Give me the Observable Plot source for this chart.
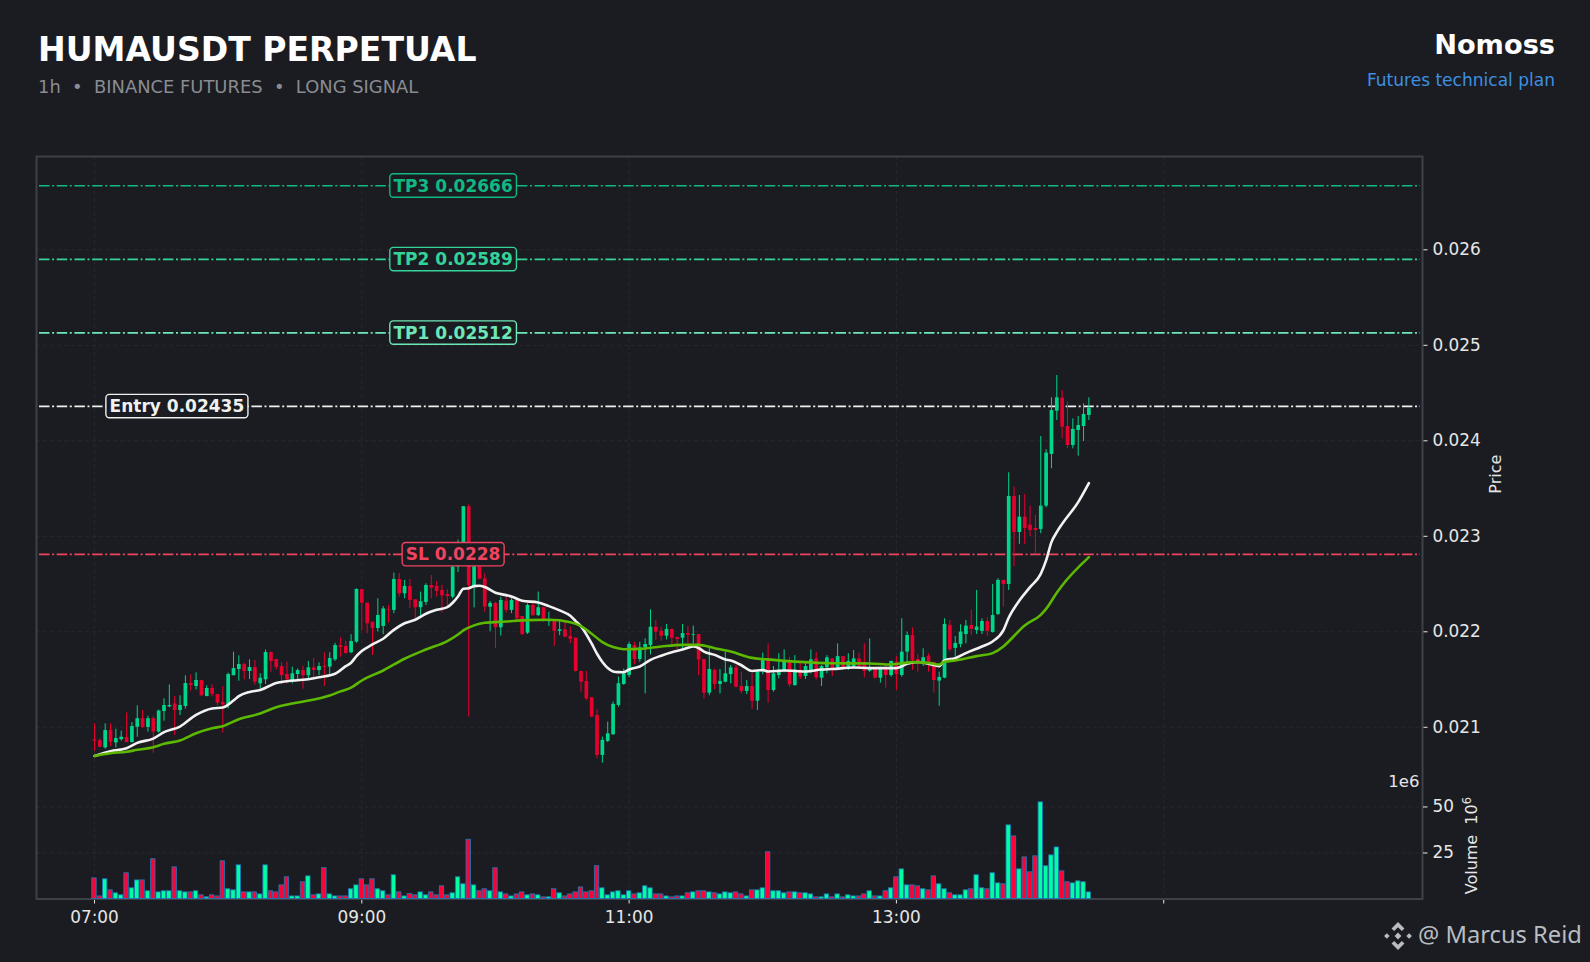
<!DOCTYPE html>
<html>
<head>
<meta charset="utf-8">
<script src="https://cdn.jsdelivr.net/npm/d3@7"></script>
<script src="https://cdn.jsdelivr.net/npm/@observablehq/plot@0.6"></script>
<style>
html,body{margin:0;padding:0;background:#1a1c21;width:1590px;height:962px;overflow:hidden;font-family:"DejaVu Sans",sans-serif}
#stage{position:relative;width:1590px;height:962px}
#stage svg.plot{position:absolute;left:0;top:0;background:transparent}
.t{position:absolute;white-space:pre;line-height:1}
#title{left:38px;top:33px;font-size:33.1px;font-weight:700;color:#fff}
#sub{left:38px;top:78px;font-size:17.9px;color:#8a8c92}
#brand{right:35px;top:31px;font-size:27.2px;font-weight:700;color:#fff}
#tag{right:35px;top:72px;font-size:17.05px;color:#3f8fe0}
#mark{left:1418px;top:923px;font-family:"Noto Sans",sans-serif;font-size:23.7px;color:#b9bcc0}
#logo{position:absolute;left:1383px;top:921px}
</style>
</head>
<body>
<div id="stage">
<div class="t" id="title">HUMAUSDT PERPETUAL</div>
<div class="t" id="sub">1h  •  BINANCE FUTURES  •  LONG SIGNAL</div>
<div class="t" id="brand">Nomoss</div>
<div class="t" id="tag">Futures technical plan</div>
<svg id="logo" width="30" height="30" viewBox="0 0 28 28" fill="#b9bcc0">
<path d="M14 1l6 6-2.4 2.4L14 5.8l-3.6 3.6L8 7zM14 27l-6-6 2.4-2.4 3.6 3.6 3.6-3.6L20 21zM1 14l2.6-2.6L6.2 14l-2.6 2.6zM27 14l-2.6-2.6L21.8 14l2.6 2.6zM14 10.8l3.2 3.2-3.2 3.2-3.2-3.2z"/>
</svg>
<div class="t" id="mark">@ Marcus Reid</div>
</div>
<script>
const opens=[.02087,.02086,.020785,.020966,.020837,.02087,.020893,.02084,.021,.02109,.020998,.02109,.02095,.021165,.021214,.021245,.021176,.021218,.021458,.021427,.02149,.021322,.021406,.021343,.02126,.021232,.02154,.021605,.021657,.021584,.021626,.021455,.021497,.021783,.02171,.021636,.021553,.02149,.021553,.021595,.02154,.021622,.021595,.021636,.02163,.021706,.021856,.021846,.02178,.021892,.022443,.0223,.0221,.022035,.022056,.022234,.022224,.022548,.022398,.022475,.022335,.022252,.022307,.022485,.022475,.022433,.022391,.022363,.02268,.0229,.02331,.022475,.02268,.022555,.022258,.022297,.022042,.02232,.022224,.022328,.02216,.021986,.022276,.02217,.022252,.022105,.022112,.022004,.02202,.02195,.021934,.021585,.02148,.02131,.021124,.020705,.020852,.020922,.021229,.021448,.021542,.021856,.02171,.021832,.021856,.022048,.022006,.021954,.022024,.02194,.021933,.021982,.021964,.02197,.02171,.021357,.021594,.021448,.021472,.021552,.021622,.021427,.021375,.021427,.021273,.021577,.021716,.021385,.021542,.021594,.021682,.021437,.0216,.021532,.021594,.021716,.021514,.021622,.021716,.021622,.02174,.02163,.021636,.021716,.021682,.021587,.021622,.021514,.021622,.021542,.021682,.021543,.021787,.02196,.02171,.021675,.021742,.02168,.021484,.021515,.022067,.021826,.021868,.021972,.022066,.022014,.022004,.022108,.021993,.022182,.022538,.022496,.023417,.02304,.0232,.023117,.023082,.023072,.023316,.023857,.02431,.024447,.02415,.023951,.024108,.02415,.024265];
const highs=[.021036,.02088,.021036,.021036,.02098,.02096,.02115,.02105,.021225,.021176,.021116,.021116,.02118,.021298,.021444,.021322,.02133,.021539,.02155,.02157,.02149,.021434,.021444,.021343,.021427,.021567,.021786,.021748,.02167,.021706,.0217,.02156,.02181,.02179,.02171,.02168,.021685,.02163,.02161,.02164,.02169,.02172,.021675,.02178,.02178,.02188,.021937,.0219,.02197,.02245,.022443,.0223,.0221,.022346,.022265,.022276,.022614,.022608,.022538,.022548,.022335,.022416,.022503,.02259,.022527,.022485,.02244,.022695,.02296,.02331,.02333,.02285,.02275,.022608,.022318,.02231,.022363,.022363,.022356,.022335,.02216,.022293,.022293,.022416,.022252,.022206,.022112,.02211,.0221,.02205,.021934,.021585,.021585,.02131,.021184,.020897,.021054,.021264,.021526,.02161,.02189,.02189,.02189,.021926,.02223,.022118,.022048,.022076,.02203,.021943,.022076,.022055,.02206,.02197,.02171,.02184,.02161,.021605,.021786,.021647,.021647,.021577,.02149,.02156,.021594,.021776,.021874,.021636,.02177,.02181,.021734,.02175,.02168,.02168,.02181,.021786,.021647,.02175,.021716,.021874,.02174,.02177,.021804,.021776,.021874,.021926,.021622,.02163,.021647,.021692,.02174,.022136,.021996,.02204,.021763,.021822,.02177,.02168,.021578,.022136,.022119,.02195,.022073,.022119,.022223,.022433,.022136,.022147,.022496,.022555,.022538,.023665,.023515,.023427,.023438,.023316,.023218,.024045,.023906,.02445,.024684,.024527,.024405,.02423,.024255,.024387,.02445];
const lows=[.02075,.020785,.02077,.0208,.020785,.020855,.02084,.020837,.020896,.02099,.02095,.020729,.02094,.021064,.021204,.020914,.021123,.02119,.021378,.02139,.02132,.02132,.02132,.021228,.020938,.021193,.02154,.021483,.021497,.0215,.021444,.0214,.021448,.021577,.0216,.021444,.021455,.021455,.0215,.0214,.021507,.021507,.02154,.021427,.02154,.02169,.021734,.02177,.02177,.02188,.022007,.02198,.021752,.021997,.02197,.02209,.022189,.022363,.022346,.02224,.022136,.02217,.022276,.022346,.022363,.022196,.02224,.022346,.02262,.02285,.021107,.02225,.02255,.022206,.022,.021822,.021955,.022196,.02219,.0221,.02196,.021972,.02216,.02216,.0221,.022056,.021847,.02196,.021937,.021875,.021578,.021369,.02128,.0211,.02067,.020625,.02084,.020915,.02121,.02144,.02152,.021657,.02168,.02135,.021758,.02191,.0219,.021915,.02185,.02181,.02182,.021874,.02187,.02154,.021298,.02133,.021395,.02135,.021465,.021455,.021413,.02135,.021343,.021186,.021176,.02155,.021252,.021368,.021507,.02157,.02142,.02143,.0215,.0215,.02156,.021497,.021427,.02156,.02153,.021594,.021594,.021594,.021612,.021612,.021518,.021577,.021507,.021462,.02141,.021525,.021385,.021525,.02165,.021595,.021578,.021637,.021578,.021358,.02122,.021508,.021787,.021735,.021833,.021874,.021962,.021972,.021972,.02195,.021986,.02217,.022258,.022433,.022684,.022915,.022915,.022998,.022817,.023026,.023298,.023707,.024213,.024021,.023916,.023916,.02384,.023993,.024213];
const closes=[.020855,.02079,.020966,.020844,.020882,.020896,.02084,.021008,.02109,.020998,.02109,.02095,.02117,.021228,.021228,.021176,.021228,.021458,.021437,.02149,.02133,.021406,.021347,.021252,.021235,.021553,.021615,.021657,.021584,.021626,.021472,.021514,.021783,.021689,.021626,.02154,.021497,.02156,.021595,.02154,.021622,.021595,.021636,.021626,.02172,.021856,.021835,.021772,.021898,.022443,.0223,.022084,.022035,.022171,.02224,.022227,.022548,.022398,.022475,.022328,.022252,.022314,.022485,.022457,.022423,.022377,.02237,.022677,.0229,.02331,.022485,.02268,.02255,.022258,.022297,.022042,.022328,.022224,.022328,.022136,.021972,.022276,.02217,.022252,.022108,.022112,.022004,.02202,.021944,.02192,.021585,.021473,.021299,.021107,.020705,.020863,.020932,.02124,.021456,.02156,.021867,.02171,.021832,.021867,.022048,.021996,.021954,.022024,.021933,.021919,.021982,.021964,.021971,.021706,.021357,.021605,.021448,.02148,.02156,.021622,.02142,.021375,.021427,.021273,.021577,.021716,.021385,.02156,.0216,.021692,.021444,.0216,.021525,.021636,.021706,.021518,.021636,.021727,.021612,.02174,.021622,.02169,.021716,.021636,.021584,.021612,.021514,.021612,.021542,.02169,.021553,.021787,.021961,.0217,.021683,.021728,.021683,.02149,.021522,.022077,.021811,.021878,.021997,.022059,.022025,.022049,.022108,.022004,.022171,.022538,.022496,.023417,.02304,.0232,.023082,.023061,.023061,.023316,.023871,.024317,.02445,.024143,.023951,.024119,.02416,.024276,.024342];
const volumes=[11.2,1.4,10.7,4.7,3.1,2,14,5.8,10.1,10.1,4.2,21.6,3.6,4.2,4.2,17.2,4.2,3.6,3.6,4.2,2,.9,2,1.4,20.5,5.3,4.7,18.3,3.6,3.6,3.6,2.5,18.3,4.2,3.6,7.4,11.8,1.4,1.4,9.1,12.3,2,2.5,16.8,2.5,1.4,1.4,1.4,5.3,7.4,10.7,7.4,10.7,5.3,4.2,2,12.9,3.6,1.4,2.7,2,3.6,2,3.6,2,6.9,2,3.1,11.8,8,32.2,7.4,4.2,5.3,4.2,16.7,3.6,2.5,1.4,2.5,3.6,2,2.5,2,.9,.9,5.3,3.1,1.4,2.5,3.6,6.3,3.6,4.2,17.8,5.8,2,3.6,4.2,2,4.2,2.5,3.1,6.9,5.8,2.5,2.5,1.4,.9,1.4,1.4,3.1,3.6,4.2,4.2,3.6,3.1,2.5,3.6,3.1,3.6,2.5,1.4,4.7,4.7,5.8,25.4,4.2,4.2,3.1,3.6,3.6,3.1,3.1,2.5,.9,.9,2.5,.9,2.5,.9,2,1.4,1.4,2.5,4.2,1.4,1.4,4.2,5.8,11.8,16.1,7.4,7.4,6.9,5.3,4.7,12.3,8,5.3,3.1,2,2,4.7,5.3,12.9,5.8,5.3,14,8.5,8,40,34,16.1,22.6,14.5,23.2,52.5,17.8,23.7,28,15,9.1,8.5,9.6,9.1,3.6];
const whiteBars=[0,3,6,8,11,13,16,19,22,24,26,27,29,31,34,36,39,42,45,47,48,49,50,52,54,56,58,60,62,64,66,67,68,69,70,71,72,73,75,77,78,80,83,85,87,89,90,91,93,94,95,96,97,98,99,100,102,104,106,108,110,112,113,114,116,118,119,121,123,125,126,129,133,136,138,142,145,150,152,154,156,158,159,161,163,166,168,170,171,173,175,177,178,179,180,181,184,186];
const whiteValues=[.0207,.02075,.02078,.020837,.020882,.020949,.021008,.02113,.021197,.021207,.02128,.021326,.02137,.02139,.021465,.021483,.021497,.021525,.02156,.02164,.021676,.021745,.021798,.021868,.021927,.02202,.02209,.022126,.022189,.02223,.022258,.022304,.02237,.02245,.022457,.022478,.022482,.022468,.022409,.022384,.02237,.022325,.022307,.022269,.022224,.022168,.022112,.022056,.021875,.02177,.021683,.02162,.021585,.021578,.021577,.021605,.021636,.021706,.02175,.021786,.021814,.021846,.02183,.021793,.021758,.02171,.021699,.02165,.02159,.0216,.021584,.021594,.021584,.021605,.02161,.021626,.02162,.02162,.021665,.021683,.021665,.02164,.0217,.021724,.021777,.021846,.021899,.022014,.022147,.022328,.022468,.022607,.022747,.022939,.023044,.02313,.023358,.023557];
const greenBars=[0,3,6,8,11,13,16,19,22,24,27,31,34,37,41,44,46,48,50,54,58,62,66,68,69,71,73,77,81,85,89,91,93,95,97,99,102,106,110,113,116,119,123,127,132,138,145,149,151,153,156,158,159,161,165,168,170,171,174,177,178,180,181,186];
const greenValues=[.0207,.020729,.020743,.020764,.020792,.020827,.020862,.020938,.02099,.021012,.021085,.021144,.02121,.021249,.02129,.021333,.021376,.021415,.02149,.021595,.021718,.021815,.021903,.021972,.022014,.022067,.022094,.022108,.022122,.022126,.022101,.02206,.02198,.021892,.02184,.021818,.021821,.021846,.021863,.021863,.021828,.021793,.021727,.021706,.021685,.021671,.021668,.021657,.021671,.021682,.021675,.021657,.021686,.0217,.021745,.021777,.021846,.021899,.022066,.022178,.02224,.022409,.022485,.022782];
const levelNames=["TP3 0.02666","TP2 0.02589","TP1 0.02512","Entry 0.02435","SL 0.0228"];
const levelPrices=[.02666,.02589,.02512,.02435,.0228];
const levelColors=["#10b981","#34d399","#6ee7b7","#f0f0f0","#f0435f"];
const levelLabelTimes=["09:41","09:41","09:41","07:37","09:41"];
const priceTicks=[.021,.022,.023,.024,.025,.026];
const volumeTicks=[25,50];
const timeTickHours=[7,9,11,13,15];

const bg="#1a1c21", frameColor="#3c4048", axisColor="#e6e6e6", gridColor="rgba(255,255,255,0.055)";
const up="#00d68a", down="#e6002d", volUp="#00ffa3", volDown="#ff0037", volEdge="#1f77b4";
const utc=(h,m=0,s=0)=>new Date(Date.UTC(2025,0,1,h,m,s));
const barSeconds=144;
const barTime=i=>new Date(+utc(7)+i*barSeconds*1000);
const bars=opens.map((o,i)=>({t:barTime(i),o,h:highs[i],l:lows[i],c:closes[i],v:volumes[i],up:closes[i]>=o,
  t1:new Date(+barTime(i)-59000),t2:new Date(+barTime(i)+59000)}));
const whiteLine=whiteBars.map((b,i)=>({t:barTime(b),y:whiteValues[i]}));
const greenLine=greenBars.map((b,i)=>({t:barTime(b),y:greenValues[i]}));
const levels=levelNames.map((n,i)=>{const [h,m]=levelLabelTimes[i].split(":").map(Number);return {name:n,y:levelPrices[i],color:levelColors[i],t:utc(h,m)}});
const timeTicks=timeTickHours.map(h=>utc(h));
const xScale={type:"utc",domain:[utc(6,33,58),utc(16,56,10)]};
const box={width:1590,height:962,marginLeft:36,marginRight:168,marginTop:156,marginBottom:63.5,
  style:{background:"transparent",fontFamily:"'DejaVu Sans',sans-serif"}};

const pricePlot=Plot.plot({...box,x:xScale,y:{domain:[.019202,.026977]},
  marks:[
    Plot.gridX(timeTicks,{stroke:gridColor,strokeOpacity:1,strokeDasharray:"4 3"}),
    Plot.gridY(priceTicks,{stroke:gridColor,strokeOpacity:1,strokeDasharray:"4 3"}),
    Plot.ruleY(levels,{y:"y",stroke:"color",strokeWidth:1.7,strokeDasharray:"10.5 2.6 2 2.6",insetLeft:3,insetRight:2,dy:-1}),
    Plot.ruleX(bars,{x:"t",y1:"l",y2:"h",stroke:d=>d.up?up:down,strokeWidth:1}),
    Plot.ruleX(bars,{x:"t",y1:"o",y2:"c",stroke:d=>d.up?up:down,strokeWidth:3.7}),
    Plot.line(whiteLine,{x:"t",y:"y",stroke:"#f2f2f2",strokeWidth:2.6,curve:"monotone-x"}),
    Plot.line(greenLine,{x:"t",y:"y",stroke:"#5cb800",strokeWidth:2.6,curve:"monotone-x"}),
    Plot.text(levels,{x:"t",y:"y",text:"name",fill:"color",fontSize:17,fontWeight:700,className:"level-label",dy:-0.7}),
    Plot.axisY({anchor:"right",ticks:priceTicks,tickFormat:d3.format(".3f"),tickSize:4.5,tickPadding:5.5,fontSize:16.9,color:axisColor,label:null}),
    Plot.axisX({ticks:timeTicks,tickFormat:d=>d.getUTCHours()>=15?"":d3.utcFormat("%H:%M")(d),tickSize:5,tickPadding:7,fontSize:16.9,color:axisColor,label:null}),
    Plot.text(["Price"],{frameAnchor:"right",y:()=>.02365,dx:73,rotate:-90,textAnchor:"middle",fill:axisColor,fontSize:16,text:d=>d}),
    Plot.frame({stroke:frameColor,strokeWidth:2})
  ]});

const volumePlot=Plot.plot({...box,x:{...xScale,axis:null},y:{domain:[0,403.4]},
  marks:[
    Plot.gridY(volumeTicks,{stroke:gridColor,strokeOpacity:1,strokeDasharray:"4 3"}),
    Plot.rectY(bars,{x1:"t1",x2:"t2",y1:0,y2:"v",fill:d=>d.up?volUp:volDown,stroke:volEdge,strokeWidth:0.85}),
    Plot.axisY({anchor:"right",ticks:volumeTicks,tickFormat:d=>d,tickSize:4.5,tickPadding:5.5,fontSize:16.9,color:axisColor,label:null}),
    Plot.text(["1e6"],{frameAnchor:"right",y:()=>63.8,dx:-3,textAnchor:"end",fill:axisColor,fontSize:16.5,text:d=>d}),
    Plot.text(["Volume  10⁶"],{frameAnchor:"right",y:()=>29,dx:49,rotate:-90,textAnchor:"middle",fill:axisColor,fontSize:16,className:"vol-label",text:d=>d})
  ]});

const stage=document.getElementById("stage");
for(const p of [pricePlot,volumePlot]){p.classList.add("plot");stage.appendChild(p);}
d3.select(pricePlot).selectAll(".level-label text").each(function(){
  const b=this.getBBox(),c=this.getAttribute("fill")||this.parentNode.getAttribute("fill");
  const r=document.createElementNS("http://www.w3.org/2000/svg","rect");
  r.setAttribute("x",b.x-3.7);r.setAttribute("y",b.y-1.7);
  r.setAttribute("width",b.width+7.4);r.setAttribute("height",b.height+3.4);
  r.setAttribute("rx",3.5);r.setAttribute("fill",bg);r.setAttribute("stroke",c);r.setAttribute("stroke-width",1.4);
  if(this.getAttribute("transform")) r.setAttribute("transform",this.getAttribute("transform"));
  this.parentNode.insertBefore(r,this);
});
d3.select(volumePlot).selectAll(".vol-label text").each(function(){
  const t=d3.select(this);
  t.text("Volume  10");
  t.append("tspan").attr("dy","-0.45em").attr("font-size","11.5px").text("6");
});
</script>
</body>
</html>
